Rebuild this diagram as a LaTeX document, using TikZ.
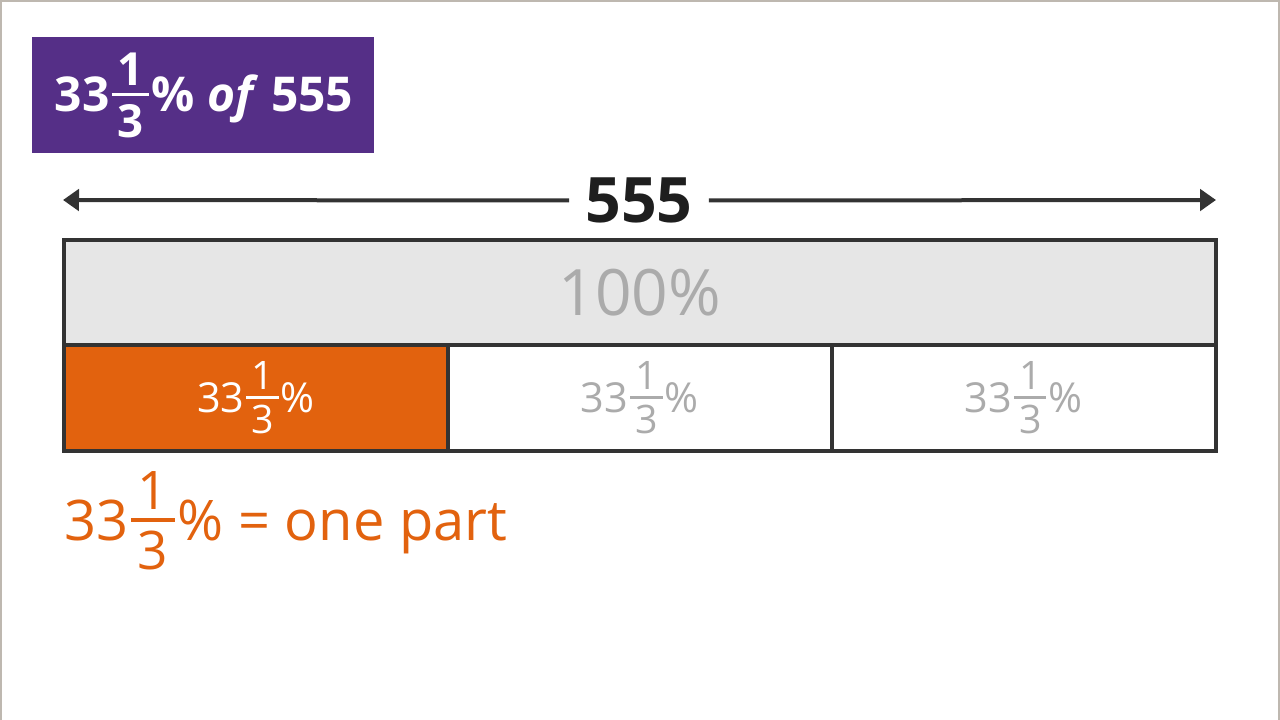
\documentclass[tikz,border=0pt]{standalone}
\usepackage{fontspec}
\setmainfont{Open Sans}
\usepackage{graphicx}
\usetikzlibrary{arrows.meta}
\definecolor{bbcpurple}{RGB}{85,47,135}
\definecolor{bbcorange}{RGB}{226,98,14}
\definecolor{softtxt}{RGB}{171,171,171}
\definecolor{barfill}{RGB}{230,230,230}
\definecolor{ink}{RGB}{51,51,51}
\definecolor{labelink}{RGB}{30,30,30}
\definecolor{frameclr}{RGB}{190,184,176}

\newdimen\frW \newdimen\frD
\newsavebox\frN \newsavebox\frB
\newcommand\fr[2]{%
 \sbox\frN{\scalebox{.95}{#1}}%
 \sbox\frB{\scalebox{.95}{#2}}%
 \frW=\wd\frN \ifdim\wd\frB>\frW \frW=\wd\frB\fi
 \advance\frW by .24em
 \frD=\ht\frB
 \kern.05em\raisebox{\dimexpr .357em-\frD-.19em\relax}{\vbox{\offinterlineskip
 \hbox to\frW{\hss\usebox\frN\hss}\kern.16em
 \hrule height .06em
 \kern.16em\hbox to\frW{\hss\usebox\frB\hss}}}\kern.05em}

\tikzset{
 cell/.style={draw=ink, line width=3pt, minimum width=287.9pt, minimum height=79.5pt, inner sep=0pt, font=\fontsize{31}{36}\selectfont},
 arrowline/.style={draw=ink, line width=3pt, -{Triangle[length=12pt,width=16pt]}},
}

\begin{document}
\begin{tikzpicture}[x=0.75pt,y=-0.75pt]
\useasboundingbox (0,0) rectangle (1280,720);
\fill[white] (0,0) rectangle (1280,720);
\fill[frameclr] (0,0) rectangle (2,720);
\fill[frameclr] (1278,0) rectangle (1280,720);
\fill[frameclr] (0,0) rectangle (1280,2);

% title
\node[fill=bbcpurple, minimum width=256.5pt, minimum height=87pt, inner sep=0pt] (titlebox) at (203,95) {};
\node[anchor=base, inner sep=0pt, text=white, font=\fontsize{36}{42}\selectfont\bfseries] (titletext) at (204,112) {33\fr{1}{3}\% \textit{of} 555};

% length arrow
\coordinate (aL) at (63,200);
\coordinate (aR) at (1216,200);
\node[inner xsep=12pt, inner ysep=0pt, text=labelink, font=\fontsize{47}{54}\selectfont\bfseries] (len) at (639,200.5) {555};
\draw[arrowline] (len.west) -- (aL);
\draw[arrowline] (len.east) -- (aR);

% bar model
\node[cell, fill=barfill, text=softtxt, minimum width=863.6pt, minimum height=79.1pt, font=\fontsize{48}{56}\selectfont] (whole) at (639.75,292.25) {100\%};
\node[cell, fill=bbcorange, text=white] (p1) at (255.9,398) {33\fr{1}{3}\%};
\node[cell, fill=white, text=softtxt] (p2) at (639.75,398) {33\fr{1}{3}\%};
\node[cell, fill=white, text=softtxt] (p3) at (1023.6,398) {33\fr{1}{3}\%};

% note
\node[anchor=base west, inner sep=0pt, text=bbcorange, font=\fontsize{42}{48}\selectfont] (note) at (64,540) {33\fr{1}{3}\% = one part};
\end{tikzpicture}
\end{document}
